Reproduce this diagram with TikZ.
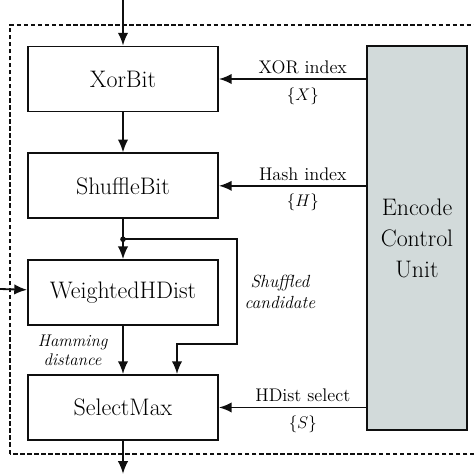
\documentclass[tikz,border=0pt]{standalone}
\usetikzlibrary{positioning, calc, arrows.meta}
\definecolor{ink}{RGB}{15,15,15}
\definecolor{ctrlgray}{RGB}{210,218,218}

\tikzset{
  block/.style={draw=ink, line width=1.3pt, minimum width=4.75cm, minimum height=1.625cm,
                font=\fontsize{17}{20}\selectfont},
  ctrlbox/.style={draw=ink, line width=1.3pt, fill=ctrlgray, minimum width=2.5cm,
                  minimum height=9.6cm, align=center, font=\fontsize{17}{22}\selectfont},
  wire/.style={draw=ink, line width=1.3pt, -{Latex[length=3.2mm, width=2.6mm]}},
  lbl/.style={font=\fontsize{13}{15}\selectfont},
  note/.style={font=\fontsize{12}{13.5}\selectfont\itshape, align=center},
}

\begin{document}
\begin{tikzpicture}
\useasboundingbox (0,0) rectangle (11.85,11.85);

% ---- dashed module frame (runs off the right edge) ----
\draw[ink, line width=1pt, dash pattern=on 3.2pt off 1.8pt] (0.25,0.5) rectangle (12.2,11.225);

% ---- processing chain ----
\node[block] (xor) at (3.075,9.875) {XorBit};
\node[block, below=1cm of xor] (shuf) {ShuffleBit};
\node[block, below=1cm of shuf] (whd) {WeightedHDist};
\node[block, below=1.2cm of whd] (smax) {SelectMax};

% ---- control unit ----
\node[ctrlbox] (ecu) at (10.425,5.9) {Encode\\Control\\Unit};

% ---- inputs / output ----
\coordinate (in) at (3.075,11.85);
\coordinate (side) at (0,4.625);
\coordinate (out) at (3.075,0);
\draw[wire] (in) -- (xor);
\draw[wire] (side) -- (whd);
\draw[wire] (smax) -- (out);

% ---- main data path ----
\draw[wire] (xor) -- (shuf);
\coordinate (tap) at ($(shuf.south)!0.5!(whd.north)$);
\draw[wire] (shuf) -- (whd);
\fill[ink] (tap) circle (2pt);
\draw[wire] (whd) -- node[note, left=0.25cm] {Hamming\\distance} (smax);

% shuffled candidate bypass
\coordinate (bend) at (5.925,3.25);
\coordinate (drop) at (4.425,3.25);
\draw[wire] (tap) -| (bend) -- (drop) -- (drop |- smax.north);
\node[note, font=\fontsize{12.5}{14.5}\selectfont\itshape] (shufnote) at (7.0,4.55) {Shuffled\\candidate};

% ---- control signals ----
\draw[wire] (ecu.west |- xor) -- node[lbl, above, pos=0.43] {XOR index}
  node[lbl, below, pos=0.43, yshift=-2pt] {$\{X\}$} (xor.east);
\draw[wire] (ecu.west |- shuf) -- node[lbl, above, pos=0.43] {Hash index}
  node[lbl, below, pos=0.43, yshift=-2pt] {$\{H\}$} (shuf.east);
\draw[wire] (ecu.west |- smax) -- node[lbl, above, pos=0.43] {HDist select}
  node[lbl, below, pos=0.43, yshift=-2pt] {$\{S\}$} (smax.east);
\end{tikzpicture}
\end{document}
